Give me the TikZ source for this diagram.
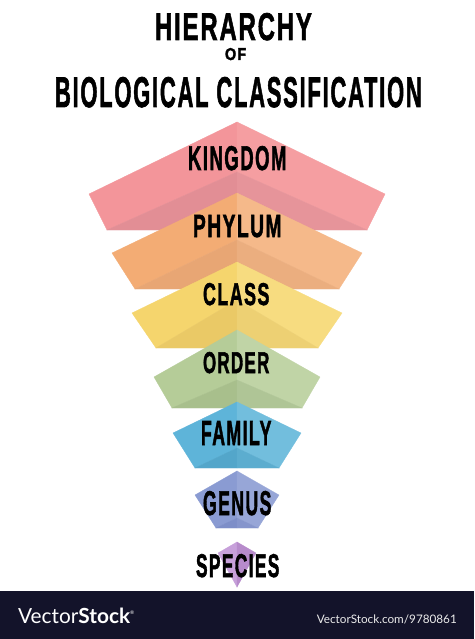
\documentclass[tikz,border=0pt]{standalone}
\usepackage{fontspec}
\usepackage{graphicx}
\newfontfamily\headfont{Liberation Sans Bold}[FakeBold=2, LetterSpace=8]
\newfontfamily\footfont{Lato}
\definecolor{footbg}{HTML}{13132A}
\definecolor{kUL}{HTML}{F3959A}\definecolor{kUR}{HTML}{F59EA1}\definecolor{kLL}{HTML}{E28E95}\definecolor{kLR}{HTML}{E6949A}
\definecolor{pUL}{HTML}{F3AC74}\definecolor{pUR}{HTML}{F5B98A}\definecolor{pLL}{HTML}{E8A674}\definecolor{pLR}{HTML}{EBAE7F}
\definecolor{cUL}{HTML}{F5D56D}\definecolor{cUR}{HTML}{F7DC80}\definecolor{cLL}{HTML}{EAC966}\definecolor{cLR}{HTML}{EDD073}
\definecolor{oUL}{HTML}{B5CC98}\definecolor{oUR}{HTML}{C0D4A6}\definecolor{oLL}{HTML}{A8BF8C}\definecolor{oLR}{HTML}{AFC596}
\definecolor{fUL}{HTML}{5EB4D9}\definecolor{fUR}{HTML}{72BEDD}\definecolor{fLL}{HTML}{53A6CA}\definecolor{fLR}{HTML}{5CADCF}
\definecolor{gUL}{HTML}{8A9BD2}\definecolor{gUR}{HTML}{97A6D7}\definecolor{gLL}{HTML}{7D8EC8}\definecolor{gLR}{HTML}{8595CC}
\definecolor{sL}{HTML}{C7A0DA}\definecolor{sR}{HTML}{B78BCB}
\newcommand{\lab}[3]{\resizebox{#1pt}{#2pt}{\headfont #3\hspace{-0.08em}}}
% #1 apex y, #2 shoulder half-width, #3 shoulder y, #4 bottom half-width, #5 bottom y, #6 inner y, #7 colour prefix
\newcommand{\chevshape}[7]{%
  \filldraw[#7UL, line width=0.3pt] (237,#1) -- (237-#2,#3) -- (237-#4,#5) -- (237,#6) -- cycle;
  \filldraw[#7UR, line width=0.3pt] (237,#1) -- (237+#2,#3) -- (237+#4,#5) -- (237,#6) -- cycle;
  \filldraw[#7LL, line width=0.3pt] (237,#6) -- (237-#4,#5) -- (237,#5) -- cycle;
  \filldraw[#7LR, line width=0.3pt] (237,#6) -- (237+#4,#5) -- (237,#5) -- cycle;
}
\tikzset{lbl/.style={anchor=base, inner sep=0pt, text=black}}
\begin{document}
\begin{tikzpicture}[x=1pt,y=-1pt]
\useasboundingbox (0,0) rectangle (474,639);
\fill[white] (0,0) rectangle (474,639);
% title
\node[lbl] (t1) at (232.5,40) {\lab{155}{27}{HIERARCHY}};
\node[lbl] (t2) at (235,60) {\lab{20}{12}{OF}};
\node[lbl] (t3) at (237.5,107) {\lab{365}{30}{BIOLOGICAL CLASSIFICATION}};
% shapes
\chevshape{122}{148}{194}{130}{230}{172}{k}
\chevshape{193}{125}{253}{102}{289}{240}{p}
\chevshape{262}{105}{313}{81}{348}{300}{c}
\chevshape{330}{83}{377}{65}{408}{380}{o}
\chevshape{402}{64}{433}{42}{468}{448}{f}
\chevshape{471}{42}{495}{21}{528}{518}{g}
\filldraw[sL, line width=0.3pt] (237,542) -- (218,553) -- (237,587) -- cycle;
\filldraw[sR, line width=0.3pt] (237,542) -- (256,553) -- (237,587) -- cycle;
% labels
\node[lbl] (kingdom) at (236.5,170) {\lab{97}{24}{KINGDOM}};
\node[lbl] (phylum) at (236.5,237) {\lab{87}{22}{PHYLUM}};
\node[lbl] (class) at (235.5,305) {\lab{65}{22}{CLASS}};
\node[lbl] (order) at (235.5,373) {\lab{65}{21}{ORDER}};
\node[lbl] (family) at (235.5,445) {\lab{69}{24}{FAMILY}};
\node[lbl] (genus) at (236.5,515) {\lab{67}{24}{GENUS}};
\node[lbl] (species) at (237,577) {\lab{82}{23}{SPECIES}};
% footer
\fill[footbg] (0,591) rectangle (474,639);
\node[anchor=base west, inner sep=0pt, text=white] (vs) at (18,623)
  {\resizebox{112pt}{!}{\footfont\fontsize{20}{20}\selectfont Vector\textbf{Stock}}\raisebox{9pt}{\footfont\fontsize{5}{5}\selectfont\textregistered}};
\node[anchor=base east, inner sep=0pt, text=white!92!black] (url) at (457,623)
  {\resizebox{140pt}{!}{\footfont\fontsize{12.5}{12.5}\selectfont VectorStock.com/9780861}};
\end{tikzpicture}
\end{document}
